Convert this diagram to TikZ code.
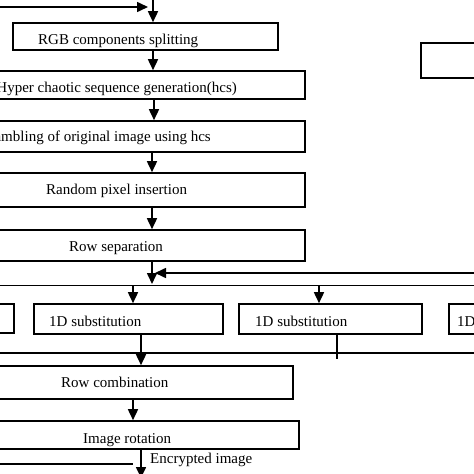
\documentclass[tikz,border=0pt]{standalone}
\usepackage{fontspec}
\setmainfont{Liberation Serif}
\usetikzlibrary{arrows.meta}
\begin{document}
\begin{tikzpicture}[x=1pt,y=-1pt,
  box/.style={draw, line width=1.6pt, inner sep=0pt},
  lbl/.style={inner sep=0pt, font=\fontsize{15}{18}\selectfont},
  conn/.style={line width=1.6pt},
  arr/.style={conn, -{Triangle[length=11pt,width=10pt]}}]
\useasboundingbox (0,0) rectangle (474,474);
\clip (0,0) rectangle (474,474);
% boxes
\node[box, minimum width=265pt, minimum height=27pt] (rgb) at (145.5,36.5) {};
\node[box, minimum width=335pt, minimum height=28pt] (hyp) at (137.5,85) {};
\node[box, minimum width=335pt, minimum height=31pt] (scr) at (137.5,136.5) {};
\node[box, minimum width=335pt, minimum height=34pt] (rnd) at (137.5,190) {};
\node[box, minimum width=335pt, minimum height=31pt] (rows) at (137.5,245.5) {};
\node[box, minimum width=114pt, minimum height=29pt] (sub1) at (-43,318.5) {};
\node[box, minimum width=189pt, minimum height=30pt] (sub2) at (128.5,319) {};
\node[box, minimum width=183pt, minimum height=30pt] (sub3) at (330.5,319) {};
\node[box, minimum width=190pt, minimum height=30pt] (sub4) at (544,319) {};
\node[box, minimum width=323pt, minimum height=33pt] (rowc) at (131.5,382.5) {};
\node[box, minimum width=329pt, minimum height=28pt] (rot) at (134.5,435) {};
\node[box, minimum width=180pt, minimum height=35pt] (tr) at (511,60.5) {};
% texts
\node[lbl, anchor=base west] (trgb) at (38,44) {RGB components splitting};
\node[lbl, anchor=base east] (thyp) at (237,92) {Hyper chaotic sequence generation(hcs)};
\node[lbl, anchor=base east] (tscr) at (211,141) {Scrambling of original image using hcs};
\node[lbl, anchor=base west] (trnd) at (46,194) {Random pixel insertion};
\node[lbl, anchor=base west] (trows) at (69,251) {Row separation};
\node[lbl, anchor=base west] (tsub2) at (49,326) {1D substitution};
\node[lbl, anchor=base west] (tsub3) at (255,326) {1D substitution};
\node[lbl, anchor=base west] (tsub4) at (457,326) {1D substitution};
\node[lbl, anchor=base west] (trowc) at (61,387) {Row combination};
\node[lbl, anchor=base west] (trot) at (83,443) {Image rotation};
\node[lbl, anchor=base west] (tenc) at (150,463) {Encrypted image};
% coordinates
\coordinate (top) at (153,-10);
\coordinate (inL) at (-10,7);
\coordinate (inT) at (148,7);
\coordinate (mrg) at (152,284);
\coordinate (fbR) at (480,273);
\coordinate (fbT) at (155,273);
\coordinate (busL) at (-10,285.5);
\coordinate (busR) at (480,285.5);
\coordinate (d2) at (133,285.5);
\coordinate (d3) at (319,285.5);
\coordinate (cbL) at (-10,353);
\coordinate (cbR) at (480,353);
\coordinate (s3e) at (337,359);
\coordinate (outE) at (141,478);
\coordinate (bL) at (-10,464);
\coordinate (bR) at (133,464);
% connectors
\draw[arr] (top) -- (rgb.north -| top);
\draw[arr] (inL) -- (inT);
\draw[arr] (rgb.south -| 153,0) -- (hyp.north -| 153,0);
\draw[arr] (hyp.south -| 154,0) -- (scr.north -| 154,0);
\draw[arr] (scr.south -| 152,0) -- (rnd.north -| 152,0);
\draw[arr] (rnd.south -| 152,0) -- (rows.north -| 152,0);
\draw[arr] (rows.south -| mrg) -- (mrg);
\draw[arr] (fbR) -- (fbT);
\draw[conn] (busL) -- (busR);
\draw[arr] (d2) -- (sub2.north -| d2);
\draw[arr] (d3) -- (sub3.north -| d3);
\draw[arr] (sub2.south -| 141,0) -- (rowc.north -| 141,0);
\draw[conn] (cbL) -- (cbR);
\draw[conn] (sub3.south -| s3e) -- (s3e);
\draw[arr] (rowc.south -| 133,0) -- (rot.north -| 133,0);
\draw[arr] (rot.south -| outE) -- (outE);
\draw[conn] (bL) -- (bR);
\end{tikzpicture}
\end{document}
